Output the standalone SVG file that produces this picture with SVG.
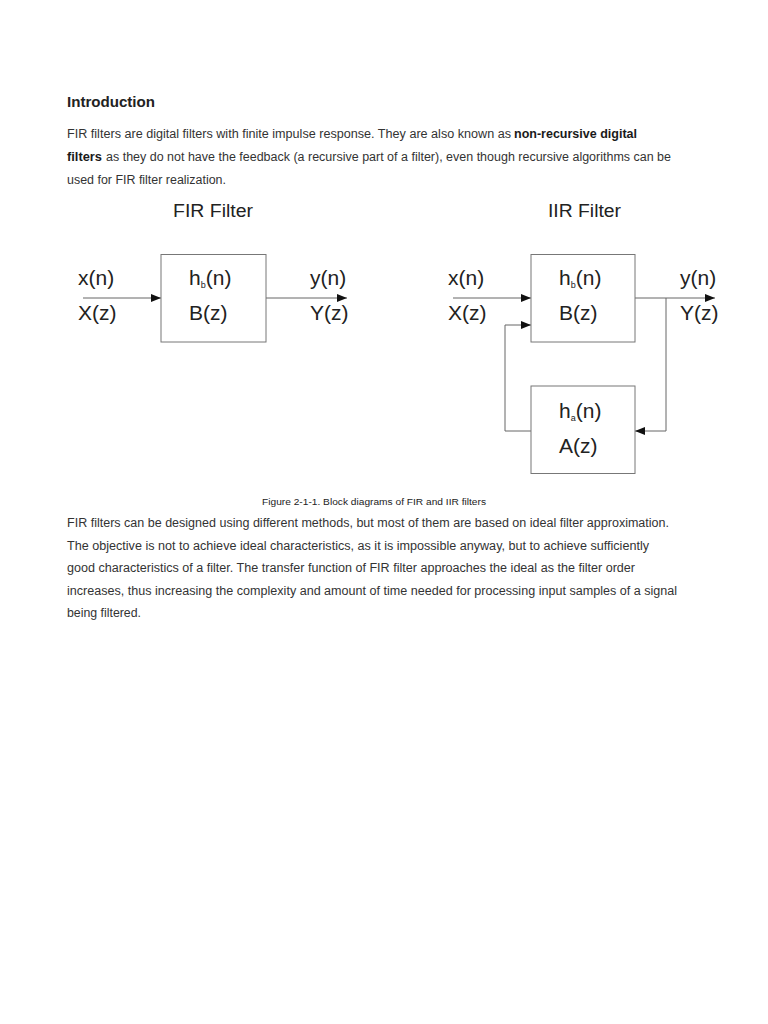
<svg xmlns="http://www.w3.org/2000/svg" width="768" height="1024" viewBox="0 0 768 1024">
<defs>
<marker id="ah" viewBox="0 0 10 8" refX="10" refY="4" markerWidth="10" markerHeight="8" markerUnits="userSpaceOnUse" orient="auto">
<path d="M0,0 L10,4 L0,8 Z" fill="#111"/>
</marker>
<style>
.t{font-family:"Liberation Sans",Arial,sans-serif;font-size:12.5px;fill:#333}
.b{font-weight:bold;fill:#1a1a1a}
.h{font-family:"Liberation Sans",Arial,sans-serif;font-size:14px;font-weight:bold;fill:#222}
.cap{font-family:"Liberation Sans",Arial,sans-serif;font-size:8.5px;fill:#222}
.lbl{font-family:"Liberation Sans",Arial,sans-serif;font-size:21px;fill:#222}
.sub{font-size:9px}
.ttl{font-family:"Liberation Sans",Arial,sans-serif;font-size:18px;fill:#222}
.box{fill:#fff;stroke:#777;stroke-width:1}
.ln{fill:none;stroke:#666;stroke-width:1}
</style>
</defs>
<rect width="768" height="1024" fill="#fff"/>

<text class="h" x="67" y="107" textLength="88" lengthAdjust="spacingAndGlyphs">Introduction</text>
<text class="t" x="67" y="138" textLength="444" lengthAdjust="spacingAndGlyphs">FIR filters are digital filters with finite impulse response. They are also known as</text>
<text class="t b" x="514" y="138" textLength="123" lengthAdjust="spacingAndGlyphs">non-recursive digital</text>
<text class="t b" x="67" y="161" textLength="35" lengthAdjust="spacingAndGlyphs">filters</text>
<text class="t" x="106" y="161" textLength="565" lengthAdjust="spacingAndGlyphs">as they do not have the feedback (a recursive part of a filter), even though recursive algorithms can be</text>
<text class="t" x="67" y="183.5" textLength="159" lengthAdjust="spacingAndGlyphs">used for FIR filter realization.</text>

<text class="ttl" x="173" y="217" textLength="80" lengthAdjust="spacingAndGlyphs">FIR Filter</text>
<text class="ttl" x="548" y="217" textLength="73" lengthAdjust="spacingAndGlyphs">IIR Filter</text>

<g id="connectors">
<line class="ln" x1="83" y1="298" x2="161" y2="298" marker-end="url(#ah)"/>
<line class="ln" x1="266" y1="298" x2="347" y2="298" marker-end="url(#ah)"/>
<line class="ln" x1="453" y1="298" x2="531" y2="298" marker-end="url(#ah)"/>
<line class="ln" x1="635" y1="298" x2="715" y2="298" marker-end="url(#ah)"/>
<polyline class="ln" points="666,298 666,431 635,431" marker-end="url(#ah)"/>
<polyline class="ln" points="531,431 505,431 505,325 531,325" marker-end="url(#ah)"/>
</g>

<g id="fir-in">
<text class="lbl" x="78" y="285">x(n)</text>
<text class="lbl" x="78" y="320">X(z)</text>
</g>
<g id="fir-b">
<rect class="box" x="161" y="254.5" width="105" height="87.5"/>
<text class="lbl" x="189" y="285">h<tspan class="sub" dy="3">b</tspan><tspan dy="-3">(n)</tspan></text>
<text class="lbl" x="189" y="320">B(z)</text>
</g>
<g id="fir-out">
<text class="lbl" x="310" y="285">y(n)</text>
<text class="lbl" x="310" y="320">Y(z)</text>
</g>

<g id="iir-in">
<text class="lbl" x="448" y="285">x(n)</text>
<text class="lbl" x="448" y="320">X(z)</text>
</g>
<g id="iir-b">
<rect class="box" x="531" y="254.5" width="104" height="87.5"/>
<text class="lbl" x="559" y="285">h<tspan class="sub" dy="3">b</tspan><tspan dy="-3">(n)</tspan></text>
<text class="lbl" x="559" y="320">B(z)</text>
</g>
<g id="iir-out">
<text class="lbl" x="680" y="285">y(n)</text>
<text class="lbl" x="680" y="320">Y(z)</text>
</g>
<g id="iir-a">
<rect class="box" x="531" y="386" width="104" height="87.5"/>
<text class="lbl" x="559" y="418">h<tspan class="sub" dy="3">a</tspan><tspan dy="-3">(n)</tspan></text>
<text class="lbl" x="559" y="453">A(z)</text>
</g>

<text class="cap" x="262" y="505" textLength="224" lengthAdjust="spacingAndGlyphs">Figure 2-1-1. Block diagrams of FIR and IIR filters</text>

<text class="t" x="67" y="527" textLength="602" lengthAdjust="spacingAndGlyphs">FIR filters can be designed using different methods, but most of them are based on ideal filter approximation.</text>
<text class="t" x="67" y="549.5" textLength="582" lengthAdjust="spacingAndGlyphs">The objective is not to achieve ideal characteristics, as it is impossible anyway, but to achieve sufficiently</text>
<text class="t" x="67" y="572" textLength="568" lengthAdjust="spacingAndGlyphs">good characteristics of a filter. The transfer function of FIR filter approaches the ideal as the filter order</text>
<text class="t" x="67" y="594.5" textLength="610" lengthAdjust="spacingAndGlyphs">increases, thus increasing the complexity and amount of time needed for processing input samples of a signal</text>
<text class="t" x="67" y="617" textLength="74" lengthAdjust="spacingAndGlyphs">being filtered.</text>
</svg>
